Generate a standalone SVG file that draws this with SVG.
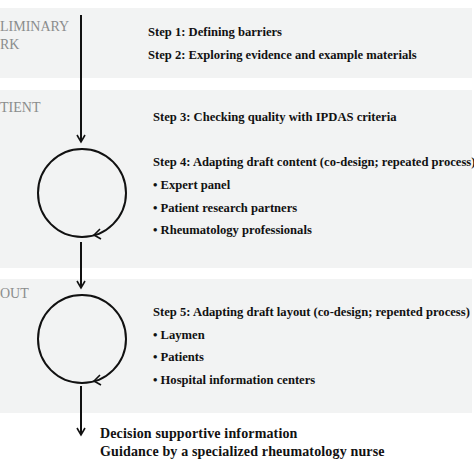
<svg xmlns="http://www.w3.org/2000/svg" width="474" height="474" viewBox="0 0 474 474">
<defs>
<style>
.panel{fill:#f2f3f3}
.lbl{font-family:"Liberation Serif",serif;font-size:14px;fill:#8a8c8c}
.st{font-family:"Liberation Serif",serif;font-size:12.6px;font-weight:bold;fill:#111}
.bt{font-family:"Liberation Serif",serif;font-size:14px;font-weight:bold;fill:#111;letter-spacing:0.15px}
.ln{stroke:#111;stroke-width:2;fill:none}
.ah{stroke:#111;stroke-width:1.6;fill:none}
</style>
</defs>
<rect width="474" height="474" fill="#fff"/>
<rect class="panel" x="0" y="8" width="472" height="70"/>
<rect class="panel" x="0" y="90" width="472" height="178"/>
<rect class="panel" x="0" y="279" width="472" height="134"/>
<g id="labels">
<text class="lbl" x="0" y="31">LIMINARY</text>
<text class="lbl" x="0" y="49">RK</text>
<text class="lbl" x="0" y="112">TIENT</text>
<text class="lbl" x="0" y="298">OUT</text>
</g>
<g id="connectors">
<line class="ln" x1="81" y1="15" x2="81" y2="141"/>
<polyline class="ah" points="77,135 81,142 85,135"/>
<line class="ln" x1="81" y1="242" x2="81" y2="287"/>
<polyline class="ah" points="77,281 81,288 85,281"/>
<line class="ln" x1="81" y1="386" x2="81" y2="434"/>
<polyline class="ah" points="77,428 81,435 85,428"/>
</g>
<g id="cycle1">
<circle class="ln" cx="82" cy="193" r="44"/>
<polyline class="ah" points="100,229 94,235 101,239"/>
</g>
<g id="cycle2">
<circle class="ln" cx="82" cy="339" r="44"/>
<polyline class="ah" points="100,375 94,381 101,385"/>
</g>
<g id="steps">
<text class="st" x="148" y="36">Step 1: Defining barriers</text>
<text class="st" x="148" y="59">Step 2: Exploring evidence and example materials</text>
<text class="st" x="153" y="121">Step 3: Checking quality with IPDAS criteria</text>
<text class="st" x="153" y="166">Step 4: Adapting draft content (co-design; repeated process)</text>
<text class="st" x="153" y="189">• Expert panel</text>
<text class="st" x="153" y="212">• Patient research partners</text>
<text class="st" x="153" y="234">• Rheumatology professionals</text>
<text class="st" x="153" y="316">Step 5: Adapting draft layout (co-design; repented process)</text>
<text class="st" x="153" y="339">• Laymen</text>
<text class="st" x="153" y="361">• Patients</text>
<text class="st" x="153" y="384">• Hospital information centers</text>
</g>
<g id="outcome">
<text class="bt" x="100" y="438">Decision supportive information</text>
<text class="bt" x="100" y="456">Guidance by a specialized rheumatology nurse</text>
</g>
</svg>
